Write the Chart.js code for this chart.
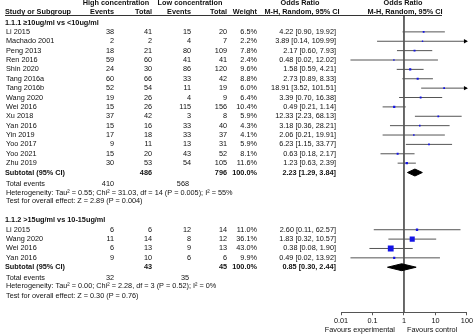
<!DOCTYPE html>
<html>
<head>
<meta charset="utf-8">
<script src="https://cdn.jsdelivr.net/npm/chart.js@4/dist/chart.umd.min.js"></script>
<style>
  html, body { margin: 0; padding: 0; background: #fff; }
  #forest { display: block; }
</style>
</head>
<body>
<canvas id="forest" width="474" height="335"></canvas>
<script>
'use strict';

// Subgroup 1.1.1
const studies1   = ['Li 2015', 'Machado 2001', 'Peng 2013', 'Ren 2016', 'Shin 2020', 'Tang 2016a', 'Tang 2016b',
                    'Wang 2020', 'Wei 2016', 'Xu 2018', 'Yan 2016', 'Yin 2019', 'Yoo 2017', 'Yoo 2021', 'Zhu 2019'];
const hiEvents1  = [38, 2, 18, 59, 24, 60, 52, 19, 15, 37, 15, 17, 9, 15, 30];
const hiTotal1   = [41, 2, 21, 60, 30, 66, 54, 26, 26, 42, 16, 18, 11, 20, 53];
const loEvents1  = [15, 4, 80, 41, 86, 33, 11, 4, 115, 3, 33, 33, 13, 43, 54];
const loTotal1   = [20, 7, 109, 41, 120, 42, 19, 9, 156, 8, 40, 37, 31, 52, 105];
const weight1    = [6.5, 2.2, 7.8, 2.4, 9.6, 8.8, 6.0, 6.4, 10.4, 5.9, 4.3, 4.1, 5.9, 8.1, 11.6];
const or1        = [4.22, 3.89, 2.17, 0.48, 1.58, 2.73, 18.91, 3.39, 0.49, 12.33, 3.18, 2.06, 6.23, 0.63, 1.23];
const ciLow1     = [0.90, 0.14, 0.60, 0.02, 0.59, 0.89, 3.52, 0.70, 0.21, 2.23, 0.36, 0.21, 1.15, 0.18, 0.63];
const ciHigh1    = [19.92, 109.99, 7.93, 12.02, 4.21, 8.33, 101.51, 16.38, 1.14, 68.13, 28.21, 19.91, 33.77, 2.17, 2.39];

// Subgroup 1.1.2
const studies2   = ['Li 2015', 'Wang 2020', 'Wei 2016', 'Yan 2016'];
const hiEvents2  = [6, 11, 6, 9];
const hiTotal2   = [6, 14, 13, 10];
const loEvents2  = [12, 8, 9, 6];
const loTotal2   = [14, 12, 13, 6];
const weight2    = [11.0, 36.1, 43.0, 9.9];
const or2        = [2.60, 1.83, 0.38, 0.49];
const ciLow2     = [0.11, 0.32, 0.08, 0.02];
const ciHigh2    = [62.57, 10.57, 1.90, 13.92];

// Subtotals (random effects)
const subTitles    = ['1.1.1 ≥10ug/ml vs <10ug/ml', '1.1.2 >15ug/ml vs 10-15ug/ml'];
const subHiTotal   = [486, 43];
const subLoTotal   = [796, 45];
const subOR        = [2.23, 0.85];
const subLow       = [1.29, 0.30];
const subHigh      = [3.84, 2.44];
const totHiEvents  = [410, 32];
const totLoEvents  = [568, 35];
const heterogeneity = ['Heterogeneity: Tau² = 0.55; Chi² = 31.03, df = 14 (P = 0.005); I² = 55%',
                       'Heterogeneity: Tau² = 0.00; Chi² = 2.28, df = 3 (P = 0.52); I² = 0%'];
const overallTest   = ['Test for overall effect: Z = 2.89 (P = 0.004)',
                       'Test for overall effect: Z = 0.30 (P = 0.76)'];

const xTicks = [0.01, 0.1, 1, 10, 100];

// row positions on the y scale (one unit = one text line)
const rows1 = studies1.map((s, i) => i);
const rows2 = studies2.map((s, i) => 21.1 + i);
const subRow   = [15, 25.1];
const totRow   = [16.2, 26.2];
const hetRow   = [17.15, 27.15];
const testRow  = [18.05, 28.2];
const titleRow = [-1, 20.05];

const FONT = '"Liberation Sans", Arial, sans-serif';
const FONT_SIZE = 7.3;
const LINE_GREY = '#555';

const studyRows = rows1.concat(rows2);
const studyOR = or1.concat(or2);
const studyLow = ciLow1.concat(ciLow2);
const studyHigh = ciHigh1.concat(ciHigh2);
const studyWeight = weight1.concat(weight2);

const datasets = [];

// point estimates, square size follows the weight
datasets.push({
   label: 'estimates',
   data: studyOR.map((v, i) => ({ x: v, y: studyRows[i] })),
   showLine: false,
   pointStyle: 'rect',
   pointRadius: studyWeight.map(w => (1.1 + 0.11 * w) / Math.SQRT2),
   backgroundColor: '#1414e6',
   borderColor: '#1414e6',
   borderWidth: 0,
   order: 0
});

// summary diamonds
subOR.forEach((v, g) => {
   const r = subRow[g];
   datasets.push({
      label: 'subtotal ' + (g + 1),
      data: [{ x: subLow[g], y: r }, { x: v, y: r - 0.37 }, { x: subHigh[g], y: r },
             { x: v, y: r + 0.37 }, { x: subLow[g], y: r }],
      borderColor: '#000',
      backgroundColor: '#000',
      borderWidth: 1,
      pointRadius: 0,
      fill: 'shape',
      tension: 0,
      order: 1
   });
});

// confidence intervals
studyOR.forEach((v, i) => {
   datasets.push({
      label: 'ci ' + i,
      data: [{ x: studyLow[i], y: studyRows[i] }, { x: studyHigh[i], y: studyRows[i] }],
      borderColor: LINE_GREY,
      borderWidth: 1,
      pointRadius: 0,
      order: 2
   });
});

// line of no effect
datasets.push({
   label: 'no effect',
   data: [{ x: 1, y: -1.8 }, { x: 1, y: 29.9 }],
   borderColor: '#555',
   borderWidth: 1,
   pointRadius: 0,
   order: 3
});

const tablePlugin = {
   id: 'forestTable',
   afterDraw(chart) {
      const ctx = chart.ctx;
      const ys = chart.scales.y;
      const xs = chart.scales.x;
      const area = chart.chartArea;

      function put(text, x, row, align, bold) {
         ctx.font = (bold ? 'bold ' : '') + FONT_SIZE + 'px ' + FONT;
         ctx.textAlign = align;
         ctx.fillText(String(text), x, ys.getPixelForValue(row));
      }

      ctx.save();
      ctx.fillStyle = '#111';
      ctx.textBaseline = 'middle';

      // column headers
      put('High concentration', 116, -3.1, 'center', true);
      put('Low concentration', 190, -3.1, 'center', true);
      put('Odds Ratio', 300, -3.1, 'center', true);
      put('Odds Ratio', 403, -3.1, 'center', true);
      put('Study or Subgroup', 5, -2.1, 'left', true);
      put('Events', 114, -2.1, 'right', true);
      put('Total', 152, -2.1, 'right', true);
      put('Events', 191, -2.1, 'right', true);
      put('Total', 227, -2.1, 'right', true);
      put('Weight', 257, -2.1, 'right', true);
      put('M-H, Random, 95% CI', 302, -2.1, 'center', true);
      put('M-H, Random, 95% CI', 405, -2.1, 'center', true);

      ctx.strokeStyle = '#333';
      ctx.lineWidth = 1;
      ctx.beginPath();
      ctx.moveTo(5, 15.5);
      ctx.lineTo(442, 15.5);
      ctx.stroke();

      const groups = [
         { names: studies1, he: hiEvents1, ht: hiTotal1, le: loEvents1, lt: loTotal1, w: weight1, or: or1, lo: ciLow1, hi: ciHigh1, rows: rows1 },
         { names: studies2, he: hiEvents2, ht: hiTotal2, le: loEvents2, lt: loTotal2, w: weight2, or: or2, lo: ciLow2, hi: ciHigh2, rows: rows2 }
      ];

      groups.forEach((g, k) => {
         put(subTitles[k], 5, titleRow[k], 'left', true);
         g.names.forEach((name, i) => {
            const r = g.rows[i];
            put(name, 6, r, 'left');
            put(g.he[i], 114, r, 'right');
            put(g.ht[i], 152, r, 'right');
            put(g.le[i], 191, r, 'right');
            put(g.lt[i], 227, r, 'right');
            put(g.w[i].toFixed(1) + '%', 257, r, 'right');
            put(g.or[i].toFixed(2) + ' [' + g.lo[i].toFixed(2) + ', ' + g.hi[i].toFixed(2) + ']', 336, r, 'right');
         });
         put('Subtotal (95% CI)', 5, subRow[k], 'left', true);
         put(subHiTotal[k], 152, subRow[k], 'right', true);
         put(subLoTotal[k], 227, subRow[k], 'right', true);
         put('100.0%', 257, subRow[k], 'right', true);
         put(subOR[k].toFixed(2) + ' [' + subLow[k].toFixed(2) + ', ' + subHigh[k].toFixed(2) + ']', 336, subRow[k], 'right', true);
         put('Total events', 6, totRow[k], 'left');
         put(totHiEvents[k], 114, totRow[k], 'right');
         put(totLoEvents[k], 189, totRow[k], 'right');
         put(heterogeneity[k], 6, hetRow[k], 'left');
         put(overallTest[k], 6, testRow[k], 'left');
      });

      // arrows for intervals running past the axis
      ctx.fillStyle = '#000';
      studyHigh.forEach((h, i) => {
         if (h > xs.max) {
            const y = ys.getPixelForValue(studyRows[i]);
            ctx.beginPath();
            ctx.moveTo(area.right + 1, y);
            ctx.lineTo(area.right - 3, y - 2.2);
            ctx.lineTo(area.right - 3, y + 2.2);
            ctx.closePath();
            ctx.fill();
         }
      });

      // favours labels under the axis
      ctx.fillStyle = '#111';
      ctx.font = FONT_SIZE + 'px ' + FONT;
      ctx.textAlign = 'right';
      ctx.fillText('Favours experimental', xs.getPixelForValue(1) - 9, 330);
      ctx.textAlign = 'left';
      ctx.fillText('Favours control', xs.getPixelForValue(1) + 3, 330);
      ctx.restore();
   }
};

Chart.defaults.font.family = FONT;
Chart.defaults.font.size = FONT_SIZE;
Chart.defaults.color = '#111';

new Chart(document.getElementById('forest'), {
   type: 'line',
   data: { datasets: datasets },
   options: {
      responsive: false,
      animation: false,
      devicePixelRatio: 1,
      layout: { padding: { left: 341, right: 7, top: 15, bottom: 9 } },
      plugins: { legend: { display: false }, tooltip: { enabled: false } },
      elements: { line: { tension: 0 } },
      scales: {
         x: {
            type: 'logarithmic',
            min: 0.01,
            max: 100,
            afterBuildTicks: (scale) => { scale.ticks = xTicks.map(v => ({ value: v })); },
            ticks: {
               autoSkip: false,
               maxRotation: 0,
               padding: 1,
               color: '#111',
               callback: (value) => String(value)
            },
            grid: { drawOnChartArea: false, drawTicks: true, tickLength: 3, color: '#555' },
            border: { display: true, color: '#555' }
         },
         y: {
            type: 'linear',
            reverse: true,
            min: -1.8,
            max: 29.9,
            display: false
         }
      }
   },
   plugins: [tablePlugin]
});
</script>
</body>
</html>
